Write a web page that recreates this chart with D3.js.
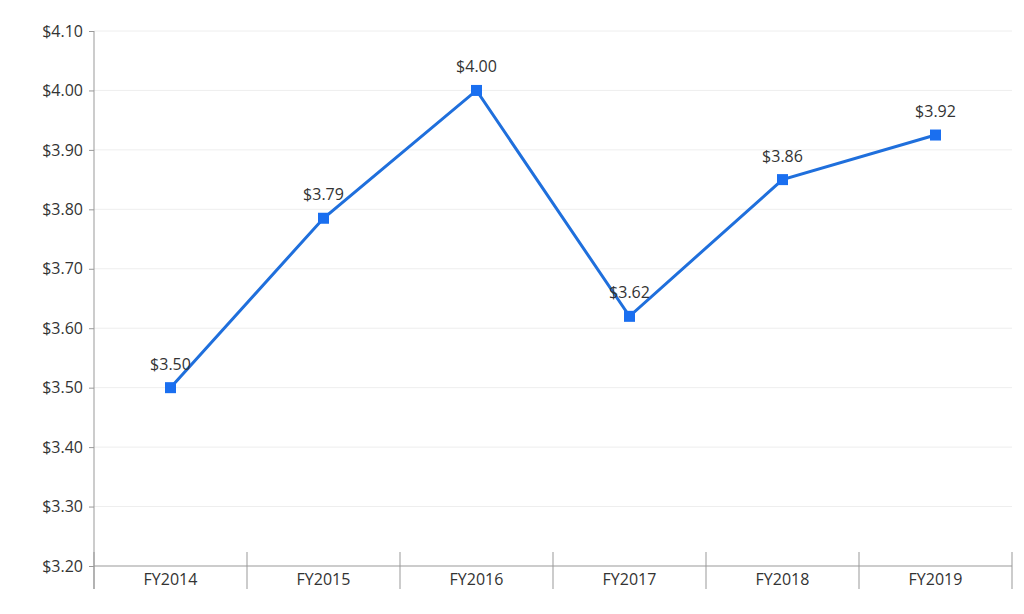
<!DOCTYPE html><html><head><meta charset="utf-8">
<script src="https://cdn.jsdelivr.net/npm/d3@7"></script>
<style>body{margin:0;background:#fff}text{font-family:"Open Sans",sans-serif;fill:#333}</style></head><body>
<svg id="c" width="1024" height="614"></svg>
<script>
const categories=["FY2014","FY2015","FY2016","FY2017","FY2018","FY2019"];
const values=[3.50,3.785,4.00,3.62,3.85,3.925];
const labels=["$3.50","$3.79","$4.00","$3.62","$3.86","$3.92"];
const yTicks=[3.2,3.3,3.4,3.5,3.6,3.7,3.8,3.9,4.0,4.1];
const svg=d3.select("#c");
const L=94,R=1012,T=31,B=566;
const x=d3.scaleBand().domain(categories).range([L,R]);
const y=d3.scaleLinear().domain([3.2,4.1]).range([B,T]);
svg.append("g").selectAll("line").data(yTicks.slice(1)).join("line")
 .attr("x1",L).attr("x2",R).attr("y1",d=>y(d)).attr("y2",d=>y(d)).attr("stroke","#eee");
const ya=svg.append("g").attr("transform",`translate(${L},0)`).call(d3.axisLeft(y).tickValues(yTicks).tickFormat(d=>"$"+d.toFixed(2)).tickSize(5).tickPadding(6));
ya.select(".domain").remove();
ya.selectAll("line").attr("stroke","#999");
ya.selectAll("text").style("font-size","16px").attr("fill","#333");
svg.append("line").attr("x1",L).attr("x2",L).attr("y1",T).attr("y2",589).attr("stroke","#999");
svg.append("line").attr("x1",L).attr("x2",R).attr("y1",B).attr("y2",B).attr("stroke","#999");
const bounds=categories.map(c=>x(c)+x.bandwidth()).concat([L]);
svg.selectAll(".sep").data(bounds).join("line").attr("x1",d=>d).attr("x2",d=>d).attr("y1",552).attr("y2",589).attr("stroke","#999");
svg.selectAll(".xl").data(categories).join("text").attr("x",d=>x(d)+x.bandwidth()/2).attr("y",585)
 .attr("text-anchor","middle").style("font-size","16px").text(d=>d);
const cx=(d,i)=>x(categories[i])+x.bandwidth()/2;
svg.append("path").datum(values).attr("fill","none").attr("stroke","#1f6fdc").attr("stroke-width",3)
 .attr("d",d3.line().x(cx).y(d=>y(d)));
svg.selectAll(".pt").data(values).join("rect").attr("x",(d,i)=>cx(d,i)-5.5).attr("y",d=>y(d)-5.5)
 .attr("width",11).attr("height",11).attr("fill","#1a6ff0");
svg.selectAll(".lb").data(values).join("text").attr("x",cx).attr("y",d=>y(d)-18)
 .attr("text-anchor","middle").style("font-size","16px").text((d,i)=>labels[i]);
</script></body></html>
